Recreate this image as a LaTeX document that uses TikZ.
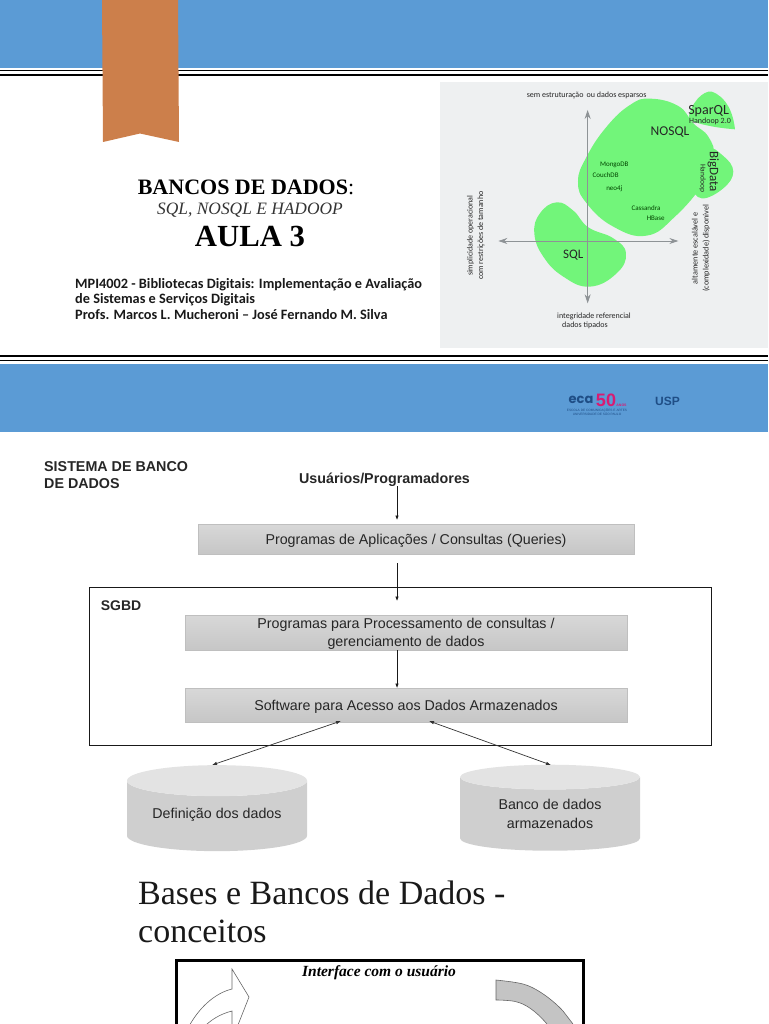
\documentclass[tikz,border=0pt]{standalone}
\usepackage{fontspec}
\usepackage{tikz}
\usetikzlibrary{arrows.meta,shapes.geometric}
\setmainfont{Liberation Serif}
\newfontfamily\arialfont{Liberation Sans}
\newfontfamily\calibrifont{Carlito}
\newfontfamily\logofont{Poppins}
\definecolor{bandblue}{HTML}{5B9BD5}
\definecolor{ribbon}{HTML}{CC7F4B}
\definecolor{panelgray}{HTML}{EEF0F1}
\definecolor{blobgreen}{HTML}{72F57A}
\definecolor{axisgray}{HTML}{8E9396}
\definecolor{boxtop}{HTML}{D8D8D8}
\definecolor{boxbot}{HTML}{C6C6C6}
\definecolor{ecablue}{HTML}{1F4E86}
\definecolor{ecapink}{HTML}{D81B72}
\tikzset{
  flowbox/.style={draw=black!25,line width=0.8pt,top color=boxtop,bottom color=boxbot,inner sep=0pt,
    align=center,text=black!85,text depth=0pt,font=\arialfont\fontsize{14.25}{18.2}\selectfont},
  dbcyl/.style={cylinder,shape border rotate=90,aspect=0.24,minimum width=180pt,minimum height=86pt,
    cylinder uses custom fill,cylinder body fill=black!19,cylinder end fill=black!11,inner sep=0pt,
    align=center,text=black!85,text depth=0pt,font=\arialfont\fontsize{14.25}{18.5}\selectfont},
  panellabel/.style={text=black!85,align=center,font=\calibrifont\fontsize{8}{9.5}\selectfont},
  paneldb/.style={text=black!55!green!60!black,font=\calibrifont\fontsize{7}{8}\selectfont},
  flowarrow/.style={-{Latex[length=4.5pt,width=3.5pt]},line width=0.6pt,black!90},
  dblarrow/.style={{Latex[length=5pt,width=3.5pt]}-{Latex[length=5pt,width=3.5pt]},line width=0.7pt,black!80},
  axisline/.style={{Stealth[length=9pt,width=6pt]}-{Stealth[length=9pt,width=6pt]},axisgray,line width=0.8pt},
}
\begin{document}
\begin{tikzpicture}[x=1pt,y=-1pt]
\useasboundingbox (0,0) rectangle (768,1024);
\clip (0,0) rectangle (768,1024);
% slide 1
\fill[bandblue] (0,0) rectangle (768,68);
\fill[bandblue] (0,364) rectangle (768,432);
\foreach \y in {74.7,356} {
  \draw[line width=2.2pt] (0,\y) -- (768,\y);
}
\foreach \y in {70.7,360} {
  \draw[line width=0.9pt] (0,\y) -- (768,\y);
}
\fill[ribbon] (102,0) -- (178,0) -- (179,142) -- (140,133.5) -- (103,142) -- cycle;
\node[font=\bfseries\fontsize{22}{24}\selectfont] (titulo) at (246,187) {BANCOS DE DADOS\textmd{:}};
\node[font=\itshape\fontsize{17.4}{20}\selectfont,text=black!80] (subtitulo) at (250,210) {SQL, NOSQL E HADOOP};
\node[font=\bfseries\fontsize{30.7}{32}\selectfont] (aula) at (250,236) {AULA 3};
\node[anchor=north west,inner sep=0pt,align=left,font=\calibrifont\bfseries\fontsize{14.3}{15.7}\selectfont,text=black!90] (disciplina) at (75,278)
  {MPI4002 - Bibliotecas Digitais: Implementação e Avaliação\\de Sistemas e Serviços Digitais\\Profs. Marcos L. Mucheroni – José Fernando M. Silva};
% quadrant figure
\fill[panelgray] (440,82) rectangle (768,348);
\begin{scope}[shift={(440,70)},x=0.3333pt,y=-0.3333pt]
\fill[blobgreen] plot[smooth cycle,tension=0.75] coordinates {(630,86) (715,108) (760,160) (805,200) (822,262) (790,340) (705,440) (620,497) (520,470) (440,400) (414,335) (440,260) (500,170) (570,105)};
\fill[blobgreen] (745,150) .. controls (750,100) and (790,60) .. (815,65) .. controls (860,80) and (880,130) .. (885,178) .. controls (850,175) and (800,170) .. cycle;
\fill[blobgreen] plot[smooth cycle,tension=0.7] coordinates {(800,240) (850,258) (880,305) (850,355) (785,385) (760,340)};
\fill[blobgreen] plot[smooth cycle,tension=0.75] coordinates {(350,397) (400,422) (445,472) (520,505) (558,550) (530,610) (450,650) (370,620) (310,560) (283,490) (300,430)};
\coordinate (eixotopo) at (443,120);
\coordinate (eixobase) at (443,700);
\coordinate (eixoesq) at (175,513);
\coordinate (eixodir) at (715,513);
\draw[axisline] (eixotopo) -- (eixobase);
\draw[axisline] (eixoesq) -- (eixodir);
\node[panellabel] (semestrutura) at (440,75) {sem estruturação\, ou dados esparsos};
\node[panellabel,align=left] (integridade) at (462,753) {integridade referencial\\\hspace*{5pt}dados tipados};
\node[panellabel,rotate=90,font=\calibrifont\fontsize{8}{10.5}\selectfont] (simplicidade) at (107,497) {simplicidade operacional\\com restrições de tamanho};
\node[panellabel,rotate=90,font=\calibrifont\fontsize{8.2}{11}\selectfont] (altamente) at (783,535) {altamente escalável e\\(complexidade) disponível};
\node[font=\calibrifont\fontsize{13}{14}\selectfont,text=black!85] (sql) at (400,556) {SQL};
\node[font=\calibrifont\fontsize{13.5}{14}\selectfont,text=black!85] (nosql) at (690,186) {NOSQL};
\node[font=\calibrifont\fontsize{14}{14}\selectfont,text=black!85] (sparql) at (806,122) {SparQL};
\node[font=\calibrifont\fontsize{8}{9}\selectfont,text=black!85] (handoopdois) at (810,155) {Handoop 2.0};
\node[rotate=-90,font=\calibrifont\fontsize{13}{14}\selectfont,text=black!85] (bigdata) at (820,305) {BigData};
\node[rotate=-90,font=\calibrifont\fontsize{7.5}{9}\selectfont,text=black!85] (handoop) at (788,325) {Handoop};
\node[paneldb] (mongodb) at (523,286) {MongoDB};
\node[paneldb] (couchdb) at (497,314) {CouchDB};
\node[paneldb] (neofj) at (523,357) {neo4j};
\node[paneldb] (cassandra) at (618,414) {Cassandra};
\node[paneldb] (hbase) at (647,444) {HBase};
\end{scope}
% logos
\node[font=\logofont\bfseries\fontsize{13}{14}\selectfont,text=ecablue,inner sep=0pt] (eca) at (581,400) {eca};
\node[font=\arialfont\bfseries\fontsize{18}{19}\selectfont,text=ecapink,inner sep=0pt] (cinquenta) at (606,400) {50};
\node[font=\arialfont\bfseries\fontsize{3.5}{4}\selectfont,text=ecapink,inner sep=0pt] (anos) at (621.5,405) {ANOS};
\node[font=\arialfont\fontsize{3.2}{3.8}\selectfont,text=ecablue,align=center,inner sep=0pt] (escola) at (597,412) {ESCOLA DE COMUNICAÇÕES E ARTES\\UNIVERSIDADE DE SÃO PAULO};
\node[font=\arialfont\bfseries\fontsize{12}{13}\selectfont,text=ecablue,inner sep=0pt] (usp) at (667.5,401.5) {USP};
% slide 2
\node[anchor=north west,inner sep=0pt,align=left,font=\arialfont\bfseries\fontsize{14.3}{17.2}\selectfont,text=black!85] (sistema) at (44,461) {SISTEMA DE BANCO\\DE DADOS};
\node[font=\arialfont\bfseries\fontsize{14.3}{15}\selectfont,text=black!85,inner sep=0pt] (usuarios) at (384.5,479.5) {Usuários/Programadores};
\node[flowbox,minimum width=436pt,minimum height=30pt] (aplicacoes) at (416,539) {Programas de Aplicações / Consultas (Queries)};
\node[draw=black!90,line width=0.8pt,minimum width=622pt,minimum height=158pt,inner sep=0pt] (sgbdframe) at (400,666) {};
\node[font=\arialfont\bfseries\fontsize{14}{14}\selectfont,text=black!85,inner sep=0pt] (sgbd) at (121,606) {SGBD};
\node[flowbox,minimum width=442pt,minimum height=35pt] (processamento) at (406,632.5) {Programas para Processamento de consultas /\\gerenciamento de dados};
\node[flowbox,minimum width=442pt,minimum height=34pt] (software) at (406,705) {Software para Acesso aos Dados Armazenados};
\node[dbcyl,text depth=6pt] (definicao) at (217,816) {Definição dos dados};
\node[dbcyl] (banco) at (550,814) {Banco de dados\\armazenados};
\coordinate (usuarioseta) at (397,486);
\coordinate (aplicponta) at (397,520);
\coordinate (aplicbase) at (397,563);
\coordinate (sgbdponta) at (397,601);
\coordinate (procbase) at (397,650);
\coordinate (softponta) at (397,688);
\coordinate (softesq) at (341,721);
\coordinate (softdir) at (429,721);
\coordinate (defponta) at (212,765);
\coordinate (bancoponta) at (551,765);
\draw[flowarrow] (usuarioseta) -- (aplicponta);
\draw[flowarrow] (aplicbase) -- (sgbdponta);
\draw[flowarrow] (procbase) -- (softponta);
\draw[dblarrow] (softesq) -- (defponta);
\draw[dblarrow] (softdir) -- (bancoponta);
% slide 3
\node[anchor=north west,inner sep=0pt,align=left,font=\fontsize{34}{38}\selectfont,text=black!90] (bases) at (138,881) {Bases e Bancos de Dados -\\conceitos};
\draw[line width=3pt] (176,1030) -- (176,960) -- (583,960) -- (583,1030);
\node[font=\bfseries\itshape\fontsize{15.5}{16}\selectfont] (interface) at (379,973) {Interface com o usuário};
\draw[black!60,fill=white,line width=0.6pt] (187,1030) .. controls (198,1008) and (215,993) .. (232,989) -- (232,969) -- (249,997) -- (236,1030) -- (232,1030) -- (232,1011) .. controls (220,1014) and (210,1020) .. (201,1030);
\draw[black!60,fill=black!23,line width=0.6pt] (573,1024) -- (563,1011) .. controls (552,999) and (535,987) .. (523,984) .. controls (515,982) and (505,981) .. (496,980) -- (496,1000) .. controls (505,1000) and (515,1001) .. (517,1002) .. controls (525,1004) and (535,1010) .. (547,1024);
\end{tikzpicture}
\end{document}
